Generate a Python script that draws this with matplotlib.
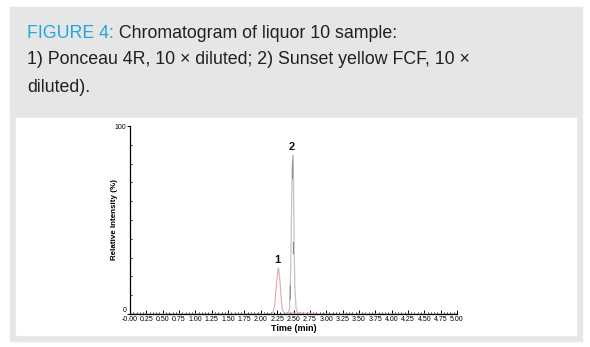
import matplotlib.pyplot as plt
from matplotlib.patches import Rectangle
import numpy as np

# chromatogram traces
time_p1 = [0.00, 2.10, 2.18, 2.21, 2.24, 2.26, 2.27, 2.29, 2.31, 2.33, 2.36, 2.60, 2.80, 2.85, 5.00]
int_p1 = [0.0, 0.0, 0.3, 4.0, 16.0, 23.0, 24.5, 19.0, 9.0, 2.0, 0.5, 0.4, 0.4, 0.0, 0.0]

time_p2 = [2.38, 2.42, 2.44, 2.45, 2.46, 2.47, 2.48, 2.49, 2.50, 2.51, 2.52, 2.54, 2.56, 2.62]
int_p2 = [0.0, 0.5, 3.0, 15.0, 30.0, 55.0, 78.0, 84.5, 70.0, 38.0, 14.0, 3.0, 0.8, 0.0]

# darker overprinted segments on peak 2
dark_t = [[2.45, 2.452], [2.498, 2.50], [2.487, 2.49]]
dark_i = [[8.0, 15.0], [32.0, 38.0], [72.0, 82.0]]

labels = ['1', '2']
label_t = [2.26, 2.475]
label_i = [26, 86]

caption_head = 'FIGURE 4:'
caption_lines = [' Chromatogram of liquor 10 sample:',
                 '1) Ponceau 4R, 10 \u00d7 diluted; 2) Sunset yellow FCF, 10 \u00d7',
                 'diluted).']

plt.rcParams['font.family'] = ['Liberation Sans', 'DejaVu Sans']

fig = plt.figure(figsize=(5.9, 3.47), dpi=100)
W, H = 590, 347

# gray caption panel and white chart area
fig.patches.append(Rectangle((10 / W, 1 - 341 / H), 572 / W, 334 / H,
                             transform=fig.transFigure, color='#e6e6e6', zorder=0))
fig.patches.append(Rectangle((16 / W, 1 - 335 / H), 560 / W, 217 / H,
                             transform=fig.transFigure, color='white', zorder=1))

# caption
fs = 12.8
t = fig.text(27 / W, 1 - 33 / H, caption_head, color='#23a6dc', fontsize=fs,
             va='center', ha='left')
fig.canvas.draw()
bb = t.get_window_extent()
fig.text(bb.x1 / W, 1 - 33 / H, caption_lines[0], color='#231f20', fontsize=fs,
         va='center', ha='left')
fig.text(27 / W, 1 - 60 / H, caption_lines[1], color='#231f20', fontsize=fs,
         va='center', ha='left')
fig.text(27 / W, 1 - 87 / H, caption_lines[2], color='#231f20', fontsize=fs,
         va='center', ha='left')

ax = fig.add_axes([130 / W, 1 - 314 / H, 327 / W, 188 / H])
ax.set_zorder(2)
ax.patch.set_alpha(0)

ax.plot(time_p1, int_p1, color='#e3a8a8', lw=0.8)
ax.plot(time_p2, int_p2, color='#c4c4c4', lw=0.9)
for xs, ys in zip(dark_t, dark_i):
    ax.plot(xs, ys, color='#8a8a8a', lw=0.8)

for lab, x, y in zip(labels, label_t, label_i):
    ax.text(x, y, lab, fontsize=8, fontweight='bold', ha='center', va='bottom',
            color='#111111')

ax.set_xlim(0, 5)
ax.set_ylim(0, 100)
ax.spines['top'].set_visible(False)
ax.spines['right'].set_visible(False)
for s in ['left', 'bottom']:
    ax.spines[s].set_linewidth(0.9)

xt = np.arange(0, 5.01, 0.25)
ax.set_xticks(xt)
ax.set_xticklabels(['-0.00'] + ['%.2f' % v for v in xt[1:]])
ax.set_xticks(np.arange(0, 5.01, 0.05), minor=True)
ax.set_yticks([0, 100])
ax.set_yticks(np.arange(0, 101, 10), minor=True)
ax.tick_params(axis='x', which='major', direction='in', length=3, width=0.7,
               labelsize=5, pad=1.2)
ax.tick_params(axis='x', which='minor', direction='in', length=1.8, width=0.6)
ax.tick_params(axis='y', which='major', direction='out', length=2, width=0.7,
               labelsize=5, pad=0.5)
ax.tick_params(axis='y', which='minor', direction='in', length=1.5, width=0.6)
# keep the "0" just above the x tick labels
ylabs = ax.get_yticklabels()
ylabs[0].set_va('bottom')

ax.set_xlabel('Time (min)', fontsize=6.5, fontweight='bold', labelpad=1)
ax.set_ylabel('Relative Intensity (%)', fontsize=5.8, fontweight='bold')
ax.yaxis.set_label_coords(-0.037, 0.5)

fig.savefig('out.png', dpi=100, facecolor='white')
